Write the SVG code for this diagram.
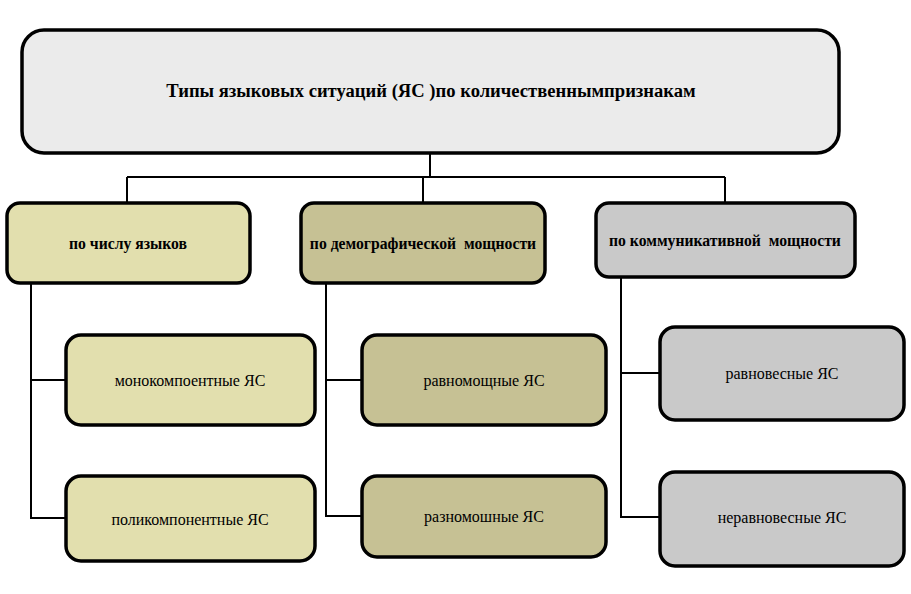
<svg xmlns="http://www.w3.org/2000/svg" width="911" height="594" viewBox="0 0 911 594">
<style>
.box{stroke:#000;stroke-width:3.5}
.top{fill:#ebebeb}
.k1{fill:#e2dfae}
.k2{fill:#c6c194}
.g{fill:#c9c9c9}
.t{font-family:'Liberation Serif','Tinos','Times New Roman','DejaVu Serif',serif;fill:#000;text-anchor:middle;dominant-baseline:central;white-space:pre}
.b{font-weight:bold}
.h{font-size:18.6px}
.m{font-size:15.7px}
.s{font-size:16px}
.c{fill:none;stroke:#000;stroke-width:2}
</style>
<rect width="911" height="594" fill="#fff"/>
<g id="connectors">
<path class="c" d="M430 153V177M127 177H725M127 177V203M423 177V203M725 177V203"/>
<path class="c" d="M31 283V518H67M31 380H67"/>
<path class="c" d="M326 283V516H362M326 380H362"/>
<path class="c" d="M621 277V517H660M621 373H660"/>
</g>
<g id="root">
<rect class="box top" x="22" y="30" width="817" height="123" rx="22"/>
<text class="t b h" x="431" y="90">Типы языковых ситуаций (ЯС )по количественнымпризнакам</text>
</g>
<g id="n1">
<rect class="box k1" x="7" y="203" width="243" height="80" rx="13"/>
<text class="t b m" x="128" y="243">по числу языков</text>
</g>
<g id="n2">
<rect class="box k2" x="301" y="203" width="244" height="80" rx="13"/>
<text class="t b m" x="423" y="243">по демографической  мощности</text>
</g>
<g id="n3">
<rect class="box g" x="596" y="203" width="259" height="74" rx="13"/>
<text class="t b m" x="725" y="240">по коммуникативной  мощности</text>
</g>
<g id="n1a">
<rect class="box k1" x="66" y="335" width="249" height="90" rx="15"/>
<text class="t s" x="190" y="380">монокомпоентные ЯС</text>
</g>
<g id="n1b">
<rect class="box k1" x="66" y="476" width="249" height="85" rx="15"/>
<text class="t s" x="190" y="519">поликомпонентные ЯС</text>
</g>
<g id="n2a">
<rect class="box k2" x="362" y="335" width="244" height="90" rx="15"/>
<text class="t s" x="484" y="380">равномощные ЯС</text>
</g>
<g id="n2b">
<rect class="box k2" x="362" y="476" width="244" height="81" rx="15"/>
<text class="t s" x="484" y="516">разномошные ЯС</text>
</g>
<g id="n3a">
<rect class="box g" x="660" y="327" width="244" height="93" rx="15"/>
<text class="t s" x="782" y="373">равновесные ЯС</text>
</g>
<g id="n3b">
<rect class="box g" x="660" y="472" width="244" height="94" rx="15"/>
<text class="t s" x="782" y="517">неравновесные ЯС</text>
</g>
</svg>
